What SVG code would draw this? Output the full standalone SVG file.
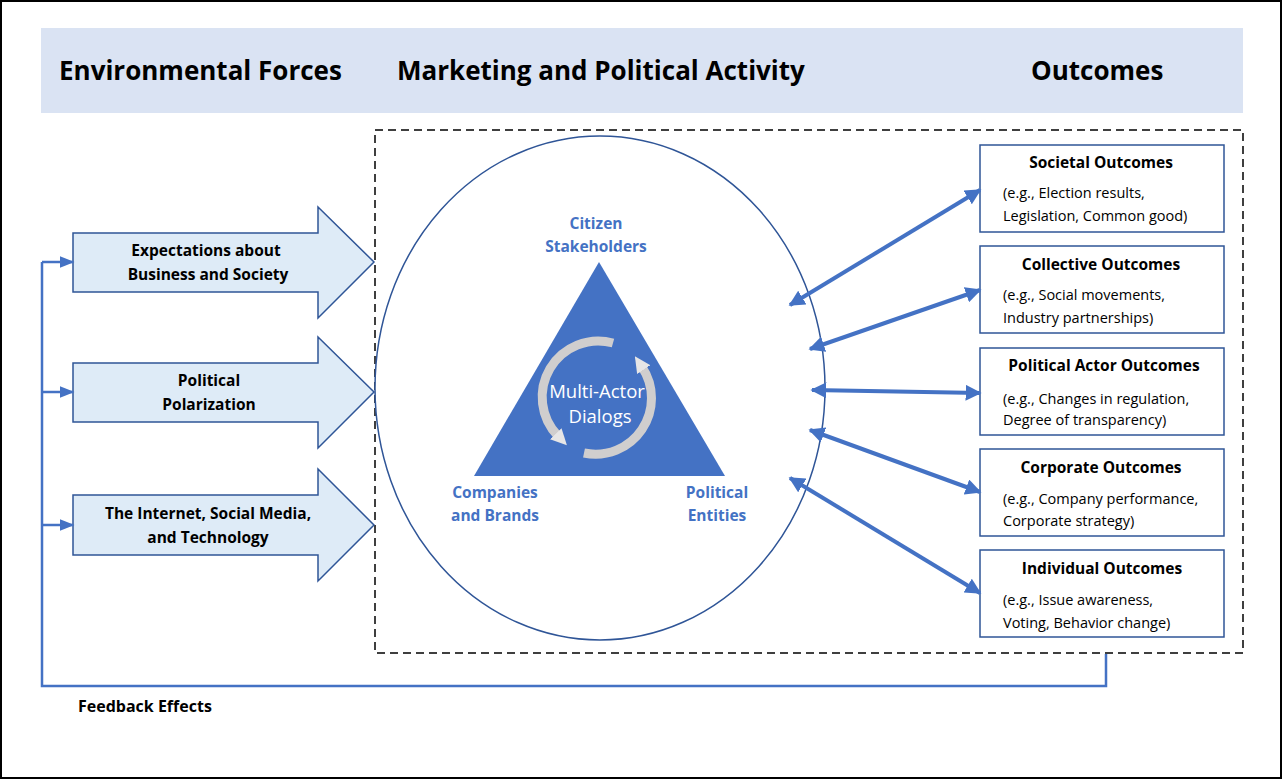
<svg xmlns="http://www.w3.org/2000/svg" width="1282" height="779" viewBox="0 0 1282 779">
<style>
.h{font-family:"Open Sans","Liberation Sans",sans-serif;font-weight:bold;font-size:26px;fill:#000}
.f{fill:#deebf7;stroke:#2f5597;stroke-width:1.5}
.ft{font-family:"Open Sans","Liberation Sans",sans-serif;font-weight:bold;font-size:15.5px;fill:#000;text-anchor:middle}
.ob{fill:#fff;stroke:#2f5597;stroke-width:1.5}
.ot{font-family:"Open Sans","Liberation Sans",sans-serif;font-weight:bold;font-size:15.5px;fill:#000;text-anchor:middle}
.od{font-family:"Open Sans","Liberation Sans",sans-serif;font-size:14.5px;fill:#000}
.bl{font-family:"Open Sans","Liberation Sans",sans-serif;font-weight:bold;font-size:15.5px;fill:#4472c4;text-anchor:middle}
.c{stroke:#4472c4;fill:none}
.arc{stroke:#d0cece;stroke-width:9;fill:none}
</style>
<defs>
<marker id="a" viewBox="0 0 10 10" refX="9" refY="5" markerWidth="4" markerHeight="4" orient="auto-start-reverse"><path d="M0,0L10,5L0,10z" fill="#4472c4"/></marker>
<marker id="s" viewBox="0 0 10 10" refX="9" refY="5" markerWidth="6" markerHeight="6" orient="auto"><path d="M0,1L10,5L0,9z" fill="#4472c4"/></marker>
<marker id="g" viewBox="0 0 10 10" refX="2" refY="5" markerUnits="userSpaceOnUse" markerWidth="16" markerHeight="18" orient="auto"><path d="M0,0L10,5L0,10z" fill="#e7e6e6"/></marker>
</defs>
<rect x="1" y="1" width="1280" height="777" fill="#fff" stroke="#000" stroke-width="2"/>
<rect x="41" y="28" width="1202" height="85" fill="#dae3f3"/>
<text class="h" x="59" y="80">Environmental Forces</text>
<text class="h" x="397" y="80">Marketing and Political Activity</text>
<text class="h" x="1031" y="80">Outcomes</text>
<rect x="375" y="130" width="868" height="523" fill="none" stroke="#000" stroke-width="1.5" stroke-dasharray="8,5"/>
<g id="f1"><path class="f" d="M73,233H318V207L374,262L318,318V292H73Z"/><text class="ft" x="206" y="256">Expectations about</text><text class="ft" x="208" y="280">Business and Society</text></g>
<g id="f2"><path class="f" d="M73,363H318V337L374,392L318,448V422H73Z"/><text class="ft" x="209" y="386">Political</text><text class="ft" x="209" y="410">Polarization</text></g>
<g id="f3"><path class="f" d="M73,495H318V469L374,525L318,581V555H73Z"/><text class="ft" x="208" y="519">The Internet, Social Media,</text><text class="ft" x="208" y="543">and Technology</text></g>
<g id="center">
<ellipse cx="600" cy="388" rx="225" ry="252" fill="#fff" stroke="#2f5597" stroke-width="1.5"/>
<path d="M599,262L725,476H474Z" fill="#4472c4"/>
<path class="arc" d="M613,343A56,56 0 0 0 558,436" marker-end="url(#g)"/>
<path class="arc" d="M584,453A56,56 0 0 0 642,367" marker-end="url(#g)"/>
<text x="597" y="398" font-family="'Open Sans','Liberation Sans',sans-serif" font-size="18.5" fill="#fff" text-anchor="middle">Multi-Actor</text>
<text x="600" y="423" font-family="'Open Sans','Liberation Sans',sans-serif" font-size="18.5" fill="#fff" text-anchor="middle">Dialogs</text>
<text class="bl" x="596" y="229">Citizen</text><text class="bl" x="596" y="252">Stakeholders</text>
<text class="bl" x="495" y="498">Companies</text><text class="bl" x="495" y="521">and Brands</text>
<text class="bl" x="717" y="498">Political</text><text class="bl" x="717" y="521">Entities</text>
</g>
<g id="o1"><rect class="ob" x="980" y="145" width="244" height="87"/><text class="ot" x="1101" y="168">Societal Outcomes</text><text class="od" x="1003" y="198">(e.g., Election results,</text><text class="od" x="1003" y="221">Legislation, Common good)</text></g>
<g id="o2"><rect class="ob" x="980" y="246" width="244" height="87"/><text class="ot" x="1101" y="270">Collective Outcomes</text><text class="od" x="1003" y="300">(e.g., Social movements,</text><text class="od" x="1003" y="323">Industry partnerships)</text></g>
<g id="o3"><rect class="ob" x="980" y="348" width="244" height="87"/><text class="ot" x="1104" y="371">Political Actor Outcomes</text><text class="od" x="1003" y="404">(e.g., Changes in regulation,</text><text class="od" x="1003" y="425">Degree of transparency)</text></g>
<g id="o4"><rect class="ob" x="980" y="449" width="244" height="87"/><text class="ot" x="1101" y="473">Corporate Outcomes</text><text class="od" x="1003" y="504">(e.g., Company performance,</text><text class="od" x="1003" y="526">Corporate strategy)</text></g>
<g id="o5"><rect class="ob" x="980" y="550" width="244" height="87"/><text class="ot" x="1102" y="574">Individual Outcomes</text><text class="od" x="1003" y="605">(e.g., Issue awareness,</text><text class="od" x="1003" y="628">Voting, Behavior change)</text></g>
<g id="connectors">
<g class="c" stroke-width="4" marker-start="url(#a)" marker-end="url(#a)">
<line x1="790" y1="305" x2="980" y2="190"/>
<line x1="810" y1="349" x2="980" y2="290"/>
<line x1="812" y1="390" x2="980" y2="393"/>
<line x1="810" y1="430" x2="980" y2="492"/>
<line x1="790" y1="478" x2="980" y2="593"/>
</g>
<path class="c" stroke-width="2.5" d="M1106,654V686H42V262"/>
<g class="c" stroke-width="2.5" marker-end="url(#s)">
<line x1="42" y1="262" x2="73" y2="262"/>
<line x1="42" y1="392" x2="73" y2="392"/>
<line x1="42" y1="525" x2="73" y2="525"/>
</g>
</g>
<text x="78" y="712" font-family="'Open Sans','Liberation Sans',sans-serif" font-weight="bold" font-size="16" fill="#000">Feedback Effects</text>
</svg>
